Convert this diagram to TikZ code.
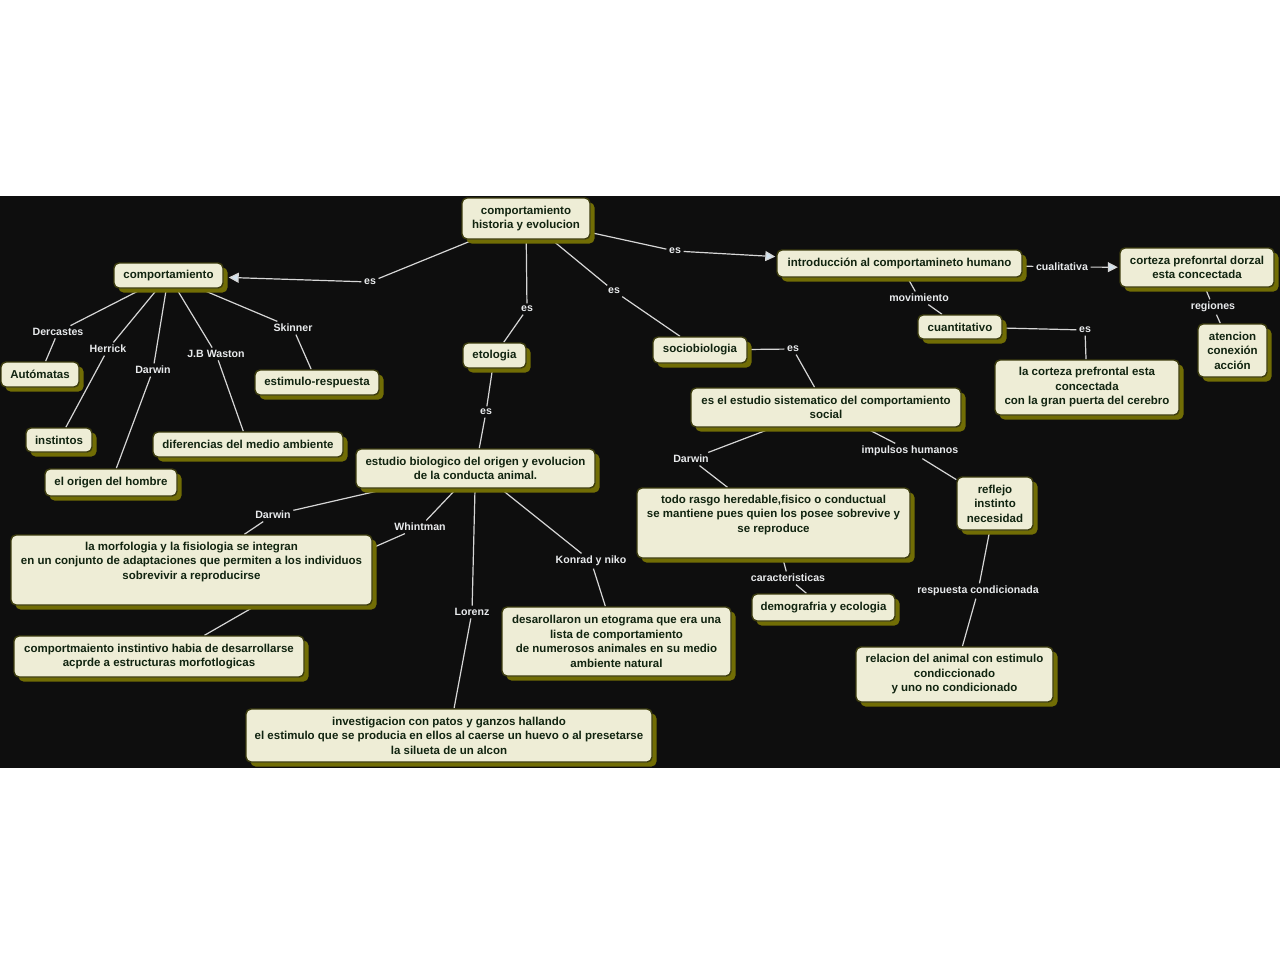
\documentclass[tikz,border=0pt]{standalone}
\usepackage{fontspec}
\setmainfont{Liberation Sans}
\usetikzlibrary{arrows.meta,shadows,backgrounds}

\definecolor{bandgray}{HTML}{0E0E0E}
\definecolor{cream}{HTML}{EEEDD6}
\definecolor{rim}{HTML}{3C3C0E}
\definecolor{shadeolive}{HTML}{716D05}
\definecolor{ink}{HTML}{112410}
\definecolor{wiregray}{HTML}{D6D6D6}
\definecolor{tipblue}{HTML}{D2E2EE}
\definecolor{labelwhite}{HTML}{E8EAEC}

\begin{document}
\begin{tikzpicture}
  [x=1pt,y=-1pt,
   concept/.style={draw=rim,line width=1.4pt,fill=cream,text=ink,rounded corners=5pt,
     align=center,inner sep=4pt,font=\fontsize{11.5}{14.5}\selectfont\bfseries,
     drop shadow={shadow xshift=4.5pt,shadow yshift=-4.5pt,fill=shadeolive,opacity=1}},
   link/.style={text=labelwhite,inner sep=2.5pt,font=\fontsize{10.6}{12}\selectfont\bfseries},
   wire/.style={draw=wiregray,line width=1.2pt},
   tipped/.style={wire,-{Triangle[length=10pt,width=10pt,fill=tipblue]}}]
  \useasboundingbox (0,0) rectangle (1280,963);

  % concepts
  \node[concept,minimum width=128pt,minimum height=41pt] (root) at (526,218.5) {comportamiento\\historia y evolucion};
  \node[concept,minimum width=109pt,minimum height=25pt] (comp) at (168.5,275.5) {comportamiento};
  \node[concept,minimum width=78pt,minimum height=25pt] (auto) at (40,374.5) {Autómatas};
  \node[concept,minimum width=124pt,minimum height=25pt] (estim) at (317,382.5) {estimulo-respuesta};
  \node[concept,minimum width=66pt,minimum height=24pt] (inst) at (59,440) {instintos};
  \node[concept,minimum width=190pt,minimum height=25pt] (dif) at (248,444.5) {diferencias del medio ambiente};
  \node[concept,minimum width=132pt,minimum height=27pt] (orig) at (111,482.5) {el origen del hombre};
  \node[concept,minimum width=63pt,minimum height=25pt] (eto) at (494.5,355.5) {etologia};
  \node[concept,minimum width=94pt,minimum height=26pt] (socio) at (700,350) {sociobiologia};
  \node[concept,minimum width=245pt,minimum height=27pt] (intro) at (899.5,263.5) {introducción al comportamineto humano};
  \node[concept,minimum width=154pt,minimum height=39pt] (dorz) at (1197,267.5) {corteza prefonrtal dorzal\\esta concectada};
  \node[concept,minimum width=84pt,minimum height=24pt] (cuan) at (960,327) {cuantitativo};
  \node[concept,minimum width=69pt,minimum height=53pt] (aten) at (1232.5,350.5) {atencion\\conexión\\acción};
  \node[concept,minimum width=184pt,minimum height=55pt] (puer) at (1087,387.5) {la corteza prefrontal esta\\concectada\\con la gran puerta del cerebro};
  \node[concept,minimum width=270pt,minimum height=39pt] (sist) at (826,407.5) {es el estudio sistematico del comportamiento\\social};
  \node[concept,minimum width=239pt,minimum height=39pt] (bio) at (475.5,468.5) {estudio biologico del origen y evolucion\\de la conducta animal.};
  \node[concept,inner xsep=3pt,inner ysep=7pt] (rasgo) at (773.5,523)
    {\parbox[c][56pt][t]{267pt}{\centering todo rasgo heredable,fisico o conductual\\se mantiene pues quien los posee sobrevive y\\se reproduce}};
  \node[concept,minimum width=76pt,minimum height=53pt] (refl) at (995,503.5) {reflejo\\instinto\\necesidad};
  \node[concept,inner xsep=3pt,inner ysep=7pt] (morf) at (191.5,570)
    {\parbox[c][56pt][t]{355pt}{\centering la morfologia y la fisiologia se integran\\en un conjunto de adaptaciones que permiten a los individuos\\sobrevivir a reproducirse}};
  \node[concept,minimum width=290pt,minimum height=41pt] (instv) at (159,656.5) {comportmaiento instintivo habia de desarrollarse\\acprde a estructuras morfotlogicas};
  \node[concept,minimum width=143pt,minimum height=27pt] (demo) at (823.5,607.5) {demografria y ecologia};
  \node[concept,minimum width=229pt,minimum height=69pt] (etog) at (616.5,641.5) {desarollaron un etograma que era una\\lista de comportamiento\\de numerosos animales en su medio\\ambiente natural};
  \node[concept,minimum width=406pt,minimum height=53pt] (inv) at (449,735.5) {investigacion con patos y ganzos hallando\\el estimulo que se producia en ellos al caerse un huevo o al presetarse\\la silueta de un alcon};
  \node[concept,minimum width=197pt,minimum height=55pt] (rel) at (954.5,674.5) {relacion del animal con estimulo\\condiccionado\\y uno no condicionado};

  % linking words
  \node[link] (e1) at (370,282) {es};
  \node[link] (e2) at (675,251) {es};
  \node[link] (e3) at (527,309) {es};
  \node[link] (e4) at (614,291) {es};
  \node[link] (e5) at (486,412) {es};
  \node[link] (e6) at (793,349) {es};
  \node[link] (e7) at (1085,330) {es};
  \node[link] (derc) at (58,332) {Dercastes};
  \node[link] (herr) at (108,349) {Herrick};
  \node[link] (dar1) at (153,370) {Darwin};
  \node[link] (wast) at (216,354) {J.B Waston};
  \node[link] (skin) at (293,328) {Skinner};
  \node[link] (cual) at (1062,267) {cualitativa};
  \node[link] (mov) at (919,298) {movimiento};
  \node[link] (reg) at (1213,307) {regiones};
  \node[link] (imp) at (910,451) {impulsos humanos};
  \node[link] (dar2) at (691,459) {Darwin};
  \node[link] (car) at (788,578) {caracteristicas};
  \node[link] (resp) at (978,591) {respuesta condicionada};
  \node[link] (dar3) at (273,515) {Darwin};
  \node[link] (whin) at (420,527) {Whintman};
  \node[link] (lor) at (472,612) {Lorenz};
  \node[link] (kon) at (591,561) {Konrad y niko};

  \begin{pgfonlayer}{background}
    \fill[white] (0,0) rectangle (1280,963);
    \fill[bandgray] (0,196) rectangle (1280,768);
    \foreach \from/\via/\to in {root/e3/eto,root/e4/socio,comp/derc/auto,comp/herr/inst,
        comp/dar1/orig,comp/wast/dif,comp/skin/estim,eto/e5/bio,socio/e6/sist,
        sist/dar2/rasgo,sist/imp/refl,rasgo/car/demo,refl/resp/rel,intro/mov/cuan,
        cuan/e7/puer,dorz/reg/aten,bio/dar3/morf,bio/whin/morf.7,bio/lor/inv,bio/kon/etog}
      \draw[wire] (\from) -- (\via) -- (\to);
    \foreach \from/\via/\to/\gap in {root/e1/comp/5pt,root/e2/intro/1pt,intro/cual/dorz/1.5pt}
      \draw[tipped,shorten >=\gap] (\from) -- (\via) -- (\to);
    \draw[wire] (morf.-29) -- (instv.25);
  \end{pgfonlayer}
\end{tikzpicture}
\end{document}
